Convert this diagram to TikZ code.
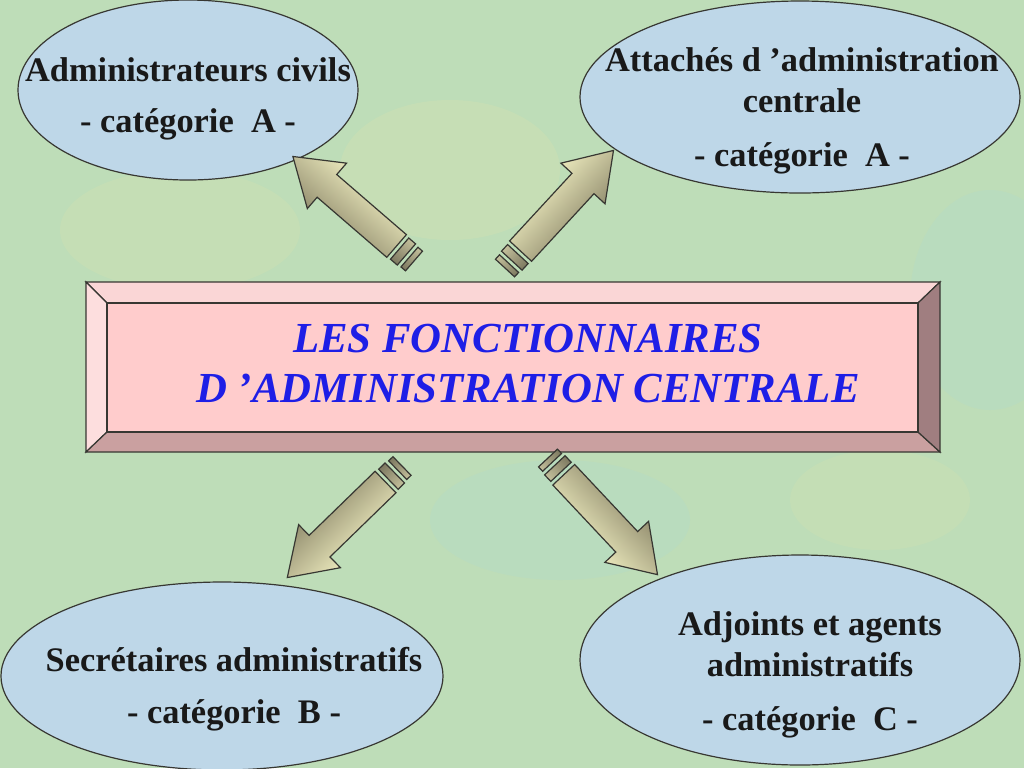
\documentclass[tikz,border=0pt]{standalone}
\usepackage{fontspec}
\setmainfont{Liberation Serif}
\usetikzlibrary{shapes.geometric}

\definecolor{hgrund}{RGB}{190,221,184}
\definecolor{hgelb}{RGB}{214,226,176}
\definecolor{hblau}{RGB}{176,218,206}
\definecolor{blase}{RGB}{190,215,232}
\definecolor{rand}{RGB}{55,55,50}
\definecolor{rosa}{RGB}{255,204,204}
\definecolor{rosaoben}{RGB}{250,214,214}
\definecolor{rosalinks}{RGB}{253,222,222}
\definecolor{rosaunten}{RGB}{202,160,160}
\definecolor{rosarechts}{RGB}{160,126,128}
\definecolor{titelblau}{RGB}{30,30,230}
\definecolor{khaki}{RGB}{150,145,114}
\definecolor{creme}{RGB}{255,255,206}
\definecolor{khakihell}{RGB}{232,230,186}
\definecolor{streif}{RGB}{125,121,96}
\definecolor{streifhell}{RGB}{195,191,155}

\tikzset{
  blase/.style={ellipse, draw=rand, fill=blase, line width=0.6pt, inner sep=0pt},
  btext/.style={align=center, font=\fontsize{17.2}{20.5}\selectfont\bfseries, text=black!90},
  kante/.style={draw=rand, line width=0.6pt},
  pfeil/.pic={
    % streifen am ende
    \shade[kante, top color=streif, bottom color=streifhell] (0,-13) rectangle (6,13);
    \shade[kante, top color=streif, bottom color=streifhell] (10,-14) rectangle (19,14);
    % schaft und spitze
    \shade[kante, top color=khaki, middle color=creme, bottom color=khakihell]
      (23,-15) -- (115,-15) -- (115,-30) -- (160,0) -- (115,30) -- (115,15) -- (23,15) -- cycle;
  }
}

\begin{document}
\begin{tikzpicture}[x=0.5pt, y=-0.5pt]
	\useasboundingbox (0,0) rectangle (1024,768);
	\clip (0,0) rectangle (1024,768);
	% hintergrund
	\fill[hgrund] (0,0) rectangle (1024,768);
	\fill[hgelb, opacity=0.35] (450,170) ellipse (110 and 70);
	\fill[hgelb, opacity=0.3] (180,230) ellipse (120 and 60);
	\fill[hblau, opacity=0.3] (560,520) ellipse (130 and 60);
	\fill[hblau, opacity=0.3] (990,300) ellipse (80 and 110);
	\fill[hgelb, opacity=0.25] (880,500) ellipse (90 and 50);

	% mittlerer kasten, abgeschraegt
	\coordinate (ia) at (107,303);
	\coordinate (ib) at (918,432);
	\fill[rosaoben, kante] (86,282) -- (940,282) -- (918,303) -- (107,303) -- cycle;
	\fill[rosalinks, kante] (86,282) -- (107,303) -- (107,432) -- (86,452) -- cycle;
	\fill[rosaunten, kante] (86,452) -- (107,432) -- (918,432) -- (940,452) -- cycle;
	\fill[rosarechts, kante] (940,282) -- (940,452) -- (918,432) -- (918,303) -- cycle;
	\fill[rosa, kante] (ia) rectangle (ib);
	\node[align=center, text=titelblau, font=\fontsize{21.4}{25}\selectfont\bfseries\itshape] (titel) at (528,364)
		{LES FONCTIONNAIRES\\D ’ADMINISTRATION CENTRALE};

	% blasen
	\node[blase, minimum width=170pt, minimum height=90pt] (civils) at (188,90) {};
	\node[blase, minimum width=220pt, minimum height=96pt] (attaches) at (800,97) {};
	\node[blase, minimum width=221pt, minimum height=94pt] (secr) at (222,676) {};
	\node[blase, minimum width=220pt, minimum height=105pt] (adjoints) at (800,660) {};

	% texte
	\node[btext] (civilsT) at (188,99) {Administrateurs civils\\[5pt]- catégorie\ \ A -};
	\node[btext] (attachesT) at (802,111) {Attachés d ’administration\\centrale\\[6.5pt]- catégorie\ \ A -};
	\node[btext] (secrT) at (234,689) {Secrétaires administratifs\\[5.5pt]- catégorie\ \ B -};
	\node[btext] (adjointsT) at (810,675) {Adjoints et agents\\administratifs\\[6.5pt]- catégorie\ \ C -};

	% pfeile, dunkle seite aussen
	\coordinate (p1) at (414,261);
	\coordinate (p2) at (505,268);
	\coordinate (p3) at (402,466);
	\coordinate (p4) at (548,458);
	\pic[transform canvas={shift={(p1)}, rotate=139.2}] {pfeil};
	\pic[transform canvas={shift={(p2)}, rotate=47.3, yscale=-1}] {pfeil};
	\pic[transform canvas={shift={(p3)}, rotate=224.2, yscale=-1}] {pfeil};
	\pic[transform canvas={shift={(p4)}, rotate=-46.8}] {pfeil};
\end{tikzpicture}
\end{document}
